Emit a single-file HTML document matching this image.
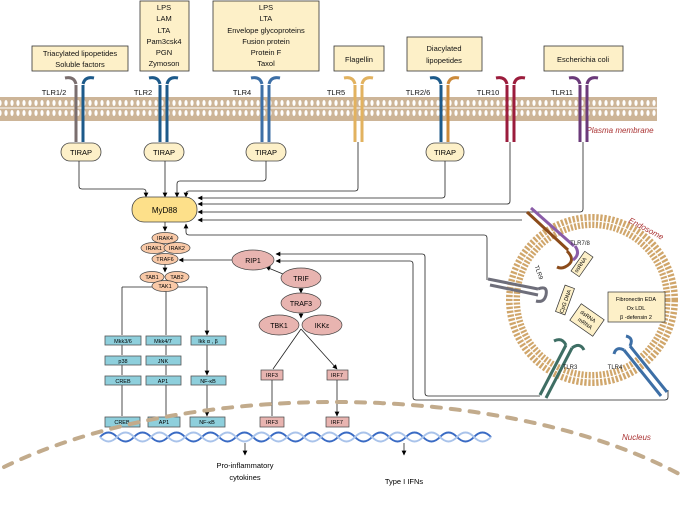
<!DOCTYPE html>
<html><head><meta charset="utf-8"><style>
html,body{margin:0;padding:0;background:#fff;overflow:hidden;width:685px;height:509px}
svg{display:block;font-family:"Liberation Sans",sans-serif}
</style></head><body>
<svg width="685" height="509" viewBox="0 0 685 509" xmlns="http://www.w3.org/2000/svg">
<defs>
<marker id="a" viewBox="0 0 10 10" refX="9" refY="5" markerWidth="6" markerHeight="6" orient="auto"><path d="M0,0L10,5L0,10z" fill="#000"/></marker>
<pattern id="mem" width="6" height="24" patternUnits="userSpaceOnUse">
<rect width="6" height="24" fill="#cdb598"/>
<ellipse cx="0" cy="7" rx="1.6" ry="3" fill="#fff"/>
<ellipse cx="6" cy="7" rx="1.6" ry="3" fill="#fff"/>
<ellipse cx="0" cy="17" rx="1.6" ry="3" fill="#fff"/>
<ellipse cx="6" cy="17" rx="1.6" ry="3" fill="#fff"/>
<rect y="11.5" width="6" height="1" fill="#fff"/>
</pattern>
</defs>
<!-- plasma membrane -->
<rect x="0" y="97" width="657" height="24" fill="url(#mem)"/>
<text x="620" y="133" font-size="8" fill="#a33" font-style="italic" text-anchor="middle">Plasma membrane</text>

<!-- ligand boxes -->
<g fill="#fdf0c8" stroke="#333" stroke-width="0.8">
<rect x="32" y="46" width="96" height="25"/>
<rect x="140" y="1" width="49" height="70"/>
<rect x="213" y="1" width="106" height="70"/>
<rect x="334" y="46" width="50" height="25"/>
<rect x="407" y="37" width="75" height="34"/>
<rect x="544" y="46" width="79" height="25"/>
</g>
<g font-size="7.5" text-anchor="middle" fill="#111">
<text x="80" y="56">Triacylated lipopetides</text><text x="80" y="67">Soluble factors</text>
<text x="164" y="10">LPS</text><text x="164" y="21">LAM</text><text x="164" y="33">LTA</text><text x="164" y="44">Pam3csk4</text><text x="164" y="55">PGN</text><text x="164" y="66">Zymoson</text>
<text x="266" y="10">LPS</text><text x="266" y="21">LTA</text><text x="266" y="33">Envelope glycoproteins</text><text x="266" y="44">Fusion protein</text><text x="266" y="55">Protein F</text><text x="266" y="66">Taxol</text>
<text x="359" y="62">Flagellin</text>
<text x="444" y="51">Diacylated</text><text x="444" y="63">lipopetides</text>
<text x="583" y="62">Escherichia coli</text>
<text x="54" y="95">TLR1/2</text><text x="143" y="95">TLR2</text><text x="242" y="95">TLR4</text><text x="336" y="95">TLR5</text><text x="418" y="95">TLR2/6</text><text x="488" y="95">TLR10</text><text x="562" y="95">TLR11</text>
</g>

<!-- receptors -->
<g stroke-width="3" fill="none">
<path d="M76,142V85 M76,84 q-2,-8 -11,-6" stroke="#7a6e6e"/>
<path d="M83,142V85 M83,84 q2,-8 11,-6" stroke="#1d5a8a"/>
<path d="M160,142V85 M160,84 q-2,-8 -11,-6 M167,142V85 M167,84 q2,-8 11,-6" stroke="#1d5a8a"/>
<path d="M262,142V85 M262,84 q-2,-8 -11,-6 M269,142V85 M269,84 q2,-8 11,-6" stroke="#3d6fa6"/>
<path d="M355,142V85 M355,84 q-2,-8 -11,-6 M362,142V85 M362,84 q2,-8 11,-6" stroke="#e2b25f"/>
<path d="M441,142V85 M441,84 q-2,-8 -11,-6" stroke="#1d5a8a"/>
<path d="M448,142V85 M448,84 q2,-8 11,-6" stroke="#cc8a3a"/>
<path d="M507,142V85 M507,84 q-2,-8 -11,-6 M514,142V85 M514,84 q2,-8 11,-6" stroke="#9b1c3c"/>
<path d="M580,142V85 M580,84 q-2,-8 -11,-6 M587,142V85 M587,84 q2,-8 11,-6" stroke="#6b3a7a"/>
</g>

<!-- TIRAP -->
<g fill="#fdf0c8" stroke="#444" stroke-width="0.8">
<rect x="61" y="143" width="40" height="18" rx="9"/>
<rect x="144" y="143" width="40" height="18" rx="9"/>
<rect x="246" y="143" width="40" height="18" rx="9"/>
<rect x="426" y="143" width="38" height="18" rx="9"/>
</g>
<g font-size="7.5" text-anchor="middle"><text x="81" y="155">TIRAP</text><text x="164" y="155">TIRAP</text><text x="266" y="155">TIRAP</text><text x="445" y="155">TIRAP</text></g>

<!-- connectors to MyD88 -->
<g stroke="#222" stroke-width="0.8" fill="none" marker-end="url(#a)">
<path d="M79,161V186q0,3 3,3H143q3,0 3,3V197"/>
<path d="M165,161V197"/>
<path d="M266,161V178q0,3 -3,3H180q-3,0 -3,3V197"/>
<path d="M358,142V188q0,3 -3,3H189q-3,0 -3,3V197"/>
<path d="M445,161V195q0,3 -3,3H198"/>
<path d="M510,142V201q0,3 -3,3H198"/>
<path d="M583,142V209q0,3 -3,3H198"/>
<path d="M522,220H198"/>
<path d="M487,280V238q0,-3 -3,-3H189q-3,0 -3,-3V224"/>
<path d="M540,396H428q-3,0 -3,-3V257q0,-3 -3,-3H276"/>
<path d="M668,390v7q0,3 -3,3H416q-3,0 -3,-3V264q0,-3 -3,-3H276"/>
</g>

<!-- MyD88 -->
<rect x="132" y="197" width="65" height="25" rx="12" fill="#fde08a" stroke="#444" stroke-width="0.8"/>
<text x="164.5" y="213" font-size="8" text-anchor="middle">MyD88</text>

<!-- MyD88 pathway -->
<g stroke="#222" stroke-width="0.8" fill="none" marker-end="url(#a)">
<path d="M165,222V231"/>
<path d="M165,264V272"/>
<path d="M165,291V287M122,287H207M122,287V335M166,287V335M207,287V335"/>
<path d="M122,345V355M166,345V355M122,365V375M166,365V375M207,345V375"/>
<path d="M122,385V416M166,385V416M207,385V416"/>
<path d="M232,260H179"/>
<path d="M283,274L266,267"/>
<path d="M301,288V293"/>
<path d="M301,313V318"/>
<path d="M301,329L273,369M301,329L337,369"/>
<path d="M272,380V416M337,380V416"/>
</g>
<g fill="#f9c9a7" stroke="#444" stroke-width="0.7">
<ellipse cx="165" cy="238" rx="13" ry="5.5"/>
<ellipse cx="154" cy="248" rx="13" ry="5.5"/>
<ellipse cx="177" cy="248" rx="13" ry="5.5"/>
<ellipse cx="165" cy="259" rx="13" ry="5.5"/>
<ellipse cx="152" cy="277" rx="12" ry="5.5"/>
<ellipse cx="177" cy="277" rx="12" ry="5.5"/>
<ellipse cx="165" cy="286" rx="13" ry="5.5"/>
</g>
<g font-size="5.5" text-anchor="middle">
<text x="165" y="240">IRAK4</text><text x="154" y="250">IRAK1</text><text x="177" y="250">IRAK2</text><text x="165" y="261">TRAF6</text>
<text x="152" y="279">TAB1</text><text x="177" y="279">TAB2</text><text x="165" y="288">TAK1</text>
</g>
<g fill="#8ecfdc" stroke="#555" stroke-width="0.8">
<rect x="105" y="336" width="36" height="9"/><rect x="146" y="336" width="35" height="9"/><rect x="191" y="336" width="35" height="9"/>
<rect x="105" y="356" width="36" height="9"/><rect x="146" y="356" width="35" height="9"/>
<rect x="105" y="376" width="36" height="9"/><rect x="146" y="376" width="35" height="9"/><rect x="191" y="376" width="35" height="9"/>
<rect x="105" y="417" width="35" height="10"/><rect x="148" y="417" width="32" height="10"/><rect x="190" y="417" width="35" height="10"/>
</g>
<g font-size="5.5" text-anchor="middle">
<text x="123" y="343">Mkk3/6</text><text x="163" y="343">Mkk4/7</text><text x="208" y="343">Ikk α , β</text>
<text x="123" y="363">p38</text><text x="163" y="363">JNK</text>
<text x="123" y="383">CREB</text><text x="163" y="383">AP1</text><text x="208" y="383">NF-κB</text>
<text x="122" y="424">CREB</text><text x="164" y="424">AP1</text><text x="207" y="424">NF-κB</text>
</g>

<!-- TRIF pathway -->
<g fill="#e8b4b0" stroke="#444" stroke-width="0.7">
<ellipse cx="253" cy="260" rx="21" ry="10"/>
<ellipse cx="301" cy="278" rx="20" ry="10"/>
<ellipse cx="301" cy="303" rx="20" ry="10"/>
<ellipse cx="279" cy="325" rx="20" ry="10"/>
<ellipse cx="322" cy="325" rx="20" ry="10"/>
<rect x="261" y="370" width="22" height="10"/><rect x="327" y="370" width="21" height="10"/>
<rect x="260" y="417" width="24" height="10"/><rect x="326" y="417" width="23" height="10"/>
</g>
<g font-size="7" text-anchor="middle">
<text x="253" y="263">RIP1</text><text x="301" y="281">TRIF</text><text x="301" y="306">TRAF3</text><text x="279" y="328">TBK1</text><text x="322" y="328">IKKε</text>
</g>
<g font-size="5.5" text-anchor="middle"><text x="272" y="377">IRF3</text><text x="337" y="377">IRF7</text><text x="272" y="424">IRF3</text><text x="337" y="424">IRF7</text></g>

<!-- nucleus -->
<path d="M4,467 A450,202 0 0 1 681,475" fill="none" stroke="#c2ab8c" stroke-width="4" stroke-dasharray="9 10" stroke-linecap="round"/>
<text x="622" y="440" font-size="8" fill="#a33" font-style="italic">Nucleus</text>
<g fill="none" stroke-width="2">
<path d="M100,437 q8.5,-9 17,0 t17,0 t17,0 t17,0 t17,0 t17,0 t17,0 t17,0 t17,0 t17,0 t17,0 t17,0 t17,0 t17,0 t17,0 t17,0 t17,0 t17,0 t17,0 t17,0 t17,0 t17,0 t17,0" stroke="#3a6bc4"/>
<path d="M100,437 q8.5,9 17,0 t17,0 t17,0 t17,0 t17,0 t17,0 t17,0 t17,0 t17,0 t17,0 t17,0 t17,0 t17,0 t17,0 t17,0 t17,0 t17,0 t17,0 t17,0 t17,0 t17,0 t17,0 t17,0" stroke="#a9c3ea"/>
</g>
<g stroke="#222" stroke-width="0.8" marker-end="url(#a)"><path d="M245,443V455"/><path d="M404,443V455"/></g>
<g font-size="7.5" text-anchor="middle"><text x="245" y="468">Pro-inflammatory</text><text x="245" y="480">cytokines</text><text x="404" y="484">Type I IFNs</text></g>

<!-- endosome -->
<circle cx="592" cy="300" r="79" fill="none" stroke="#d0a66b" stroke-width="14" stroke-dasharray="2.2 1.6"/>
<circle cx="592" cy="300" r="79" fill="none" stroke="#fff" stroke-width="1"/>
<text x="0" y="0" font-size="8" fill="#a33" font-style="italic" transform="translate(628,222) rotate(28)">Endosome</text>
<g stroke-width="3" fill="none">
<path d="M527,212L568,250M567,251q10,10 -2,16 q-4,2 -8,0" stroke="#8b4b1a"/>
<path d="M531,208L574,246M575,246q6,8 -2,14" stroke="#8a5ca8"/>
<path d="M488,279L538,289M490,285L538,295M538,289q10,-4 8,6 q-2,8 -10,6" stroke="#6e6e7a"/>
<path d="M540,395L566,345M546,398L572,348M566,345q-4,-8 -12,-4M572,348q8,-6 12,2" stroke="#3e6e64"/>
<path d="M667,392L630,346M661,396L624,350M630,346q4,-8 -4,-10M624,350q-8,-4 -10,4" stroke="#3d6fa6"/>
</g>
<g font-size="6" text-anchor="middle" fill="#222">
<text x="580" y="245">TLR7/8</text>
<text x="0" y="0" transform="translate(537,273) rotate(70)">TLR9</text>
<text x="570" y="369">TLR3</text><text x="615" y="369">TLR4</text>
</g>
<g fill="#fdf0c8" stroke="#333" stroke-width="0.7">
<rect x="-12" y="-5" width="24" height="10" transform="translate(582,264) rotate(-55)"/>
<rect x="-14" y="-5" width="28" height="10" transform="translate(565,300) rotate(-70)"/>
<rect x="-14" y="-10" width="28" height="20" transform="translate(587,320) rotate(35)"/>
<rect x="608" y="292" width="57" height="30"/>
</g>
<g font-size="5.5" text-anchor="middle">
<text transform="translate(582,266) rotate(-55)">ssRNA</text>
<text transform="translate(567,302) rotate(-70)">CpG DNA</text>
<text transform="translate(587,318) rotate(35)">dsRNA</text>
<text transform="translate(584,325) rotate(35)">mRNA</text>
<text x="636" y="301">Fibronectin EDA</text><text x="636" y="310">Ox LDL</text><text x="636" y="319">β -defensin 2</text>
</g>
</svg>
</body></html>
